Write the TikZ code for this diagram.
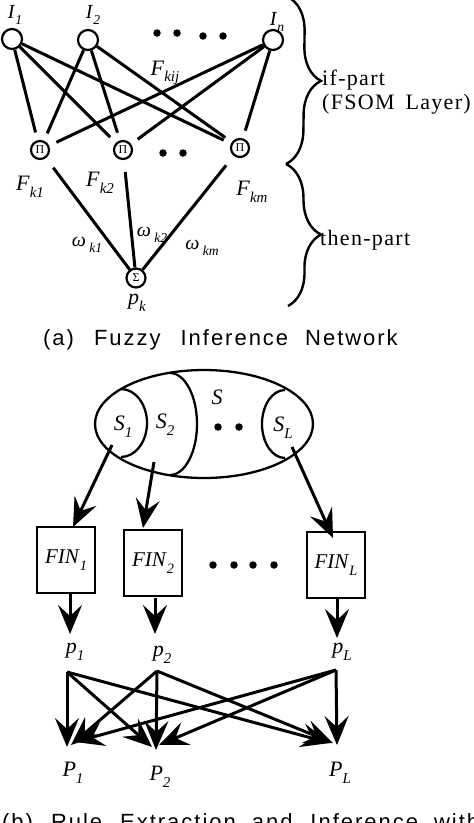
\documentclass[tikz,border=0pt]{standalone}
\usepackage{fontspec}
\setmainfont{Liberation Serif}
\newfontfamily\capfont[LetterSpace=9]{Liberation Sans}
\newfontfamily\sparse[LetterSpace=6]{Liberation Serif}
\usetikzlibrary{arrows.meta,decorations.pathreplacing}
\newcommand\lsub[2]{\textit{#1}\raisebox{-0.3em}{\scalebox{0.68}{\textit{#2}}}}
\begin{document}
\begin{tikzpicture}[x=1pt,y=-1pt,
  every node/.style={inner sep=0pt},
  lbl/.style={font=\fontsize{22}{26}\selectfont},
  slbl/.style={font=\fontsize{20}{24}\selectfont},
  inode/.style={circle,draw,line width=2.2pt,minimum size=20pt},
  pinode/.style={circle,draw,line width=2.2pt,minimum size=18pt,font=\fontsize{12}{12}\selectfont},
  wire/.style={line width=3pt},
  blob/.style={circle,fill,minimum size=7.5pt},
  finbox/.style={draw,line width=2.3pt,minimum width=58pt,minimum height=66pt,font=\fontsize{21}{24}\selectfont},
  bigarrow/.style={line width=3pt,-{Stealth[length=29pt,width=24pt,inset=11pt]}},
  captext/.style={font=\capfont\fontsize{22}{26}\selectfont,anchor=base west},
  sidetext/.style={font=\sparse\fontsize{22}{26}\selectfont,anchor=base west},
  brc/.style={decorate,decoration={brace,amplitude=34pt},line width=2.4pt},
]
\useasboundingbox (0,0) rectangle (474,823);
\fill[white] (0,0) rectangle (474,823);

% ---------- (a) network ----------
\node[inode] (I1) at (12,39) {};
\node[inode] (I2) at (88,40) {};
\node[inode] (In) at (273,40) {};
\node[slbl] (lI1) at (15,15) {\lsub{I}{1}};
\node[slbl] (lI2) at (93,15) {\lsub{I}{2}};
\node[slbl] (lIn) at (277,22) {\lsub{I}{n}};
\node[blob] (d1) at (157,33) {};
\node[blob] (d2) at (177,33) {};
\node[blob] (d3) at (203,36) {};
\node[blob] (d4) at (223,36) {};

\node[pinode] (Pa) at (40,150) {Π};
\node[pinode] (Pb) at (123,150) {Π};
\node[pinode] (Pc) at (240,148) {Π};
\node[blob] (d5) at (163,153) {};
\node[blob] (d6) at (183,153) {};

\foreach \s in {I1,I2,In}{
  \foreach \t in {Pa,Pb,Pc}{
    \draw[wire,shorten >=8pt] (\s) -- (\t);
  }
}
\node[lbl] (Fkij) at (165,73) {\lsub{F}{kij}};

\node[pinode,minimum size=19pt,font=\fontsize{12}{12}\selectfont] (Sg) at (136,278) {Σ};
\draw[wire,shorten <=12pt] (Pa) -- (Sg);
\draw[wire,shorten <=12pt] (Pb) -- (Sg);
\draw[wire,shorten <=12pt] (Pc) -- (Sg);
\node[lbl] (Fk1) at (30,187) {\lsub{F}{k1}};
\node[lbl] (Fk2) at (100,183) {\lsub{F}{k2}};
\node[lbl] (Fkm) at (252,192) {\lsub{F}{km}};
\node[slbl] (wk1) at (87,245) {\textit{ω}\,\raisebox{-0.3em}{\scalebox{0.68}{\textit{k1}}}};
\node[slbl] (wk2) at (152,235) {\textit{ω}\,\raisebox{-0.3em}{\scalebox{0.68}{\textit{k2}}}};
\node[slbl] (wkm) at (202,248) {\textit{ω}\,\raisebox{-0.3em}{\scalebox{0.68}{\textit{km}}}};
\node[lbl] (pk) at (137,303) {\lsub{p}{k}};

\draw[brc] (288,-3) -- (286,164);
\draw[brc] (286,164) -- (288,306);
\node[sidetext] (ifp) at (322,85) {if-part};
\node[sidetext] (fsom) at (322,109) {(FSOM\hspace{4pt} Layer)};
\node[sidetext] (thenp) at (320,245) {then-part};

\node[captext] (capa) at (43,345) {(a)\hspace{20pt}Fuzzy\hspace{20pt}Inference\hspace{17pt}Network};

% ---------- (b) ----------
\draw[line width=2.3pt] (204,424) ellipse [x radius=109, y radius=54];
\draw[line width=2.3pt] (121,389) arc[start angle=-90, end angle=90, x radius=26, y radius=34];
\draw[line width=2.3pt] (170,373) arc[start angle=-90, end angle=90, x radius=27, y radius=51];
\draw[line width=2.3pt] (285,390) arc[start angle=-90, end angle=-270, x radius=23, y radius=34];
\node[lbl] (S1) at (123,427) {\lsub{S}{1}};
\node[lbl] (S2) at (165,425) {\lsub{S}{2}};
\node[lbl] (S) at (217,397) {\textit{S}};
\node[lbl] (SL) at (283,428) {\lsub{S}{L}};
\node[blob] (d7) at (218,427) {};
\node[blob] (d8) at (239,427) {};

\node[finbox] (F1) at (66,560) {\lsub{FIN}{1}};
\node[finbox] (F2) at (153,563) {\lsub{FIN}{2}};
\node[finbox] (FL) at (336,565) {\lsub{FIN}{L}};
\node[blob] (d9) at (213,565) {};
\node[blob] (d10) at (234,565) {};
\node[blob] (d11) at (253,565) {};
\node[blob] (d12) at (274,565) {};

\coordinate (s1o) at (112,445);
\coordinate (s2o) at (154,462);
\coordinate (sLo) at (292,447);
\coordinate (f1i) at (73,527);
\coordinate (f2i) at (143,528);
\coordinate (fLi) at (333,538);
\draw[bigarrow] (s1o) -- (f1i);
\draw[bigarrow] (s2o) -- (f2i);
\draw[bigarrow] (sLo) -- (fLi);

\coordinate (f1o) at (70,593);
\coordinate (f2o) at (155,598);
\coordinate (fLo) at (337,598);
\coordinate (p1i) at (70,634);
\coordinate (p2i) at (155,634);
\coordinate (pLi) at (337,638);
\draw[bigarrow] (f1o) -- (p1i);
\draw[bigarrow] (f2o) -- (p2i);
\draw[bigarrow] (fLo) -- (pLi);

\node[lbl] (p1) at (75,652) {\lsub{p}{1}};
\node[lbl] (p2) at (162,655) {\lsub{p}{2}};
\node[lbl] (pL) at (342,652) {\lsub{p}{L}};

\coordinate (p1o) at (67,672);
\coordinate (p2o) at (157,671);
\coordinate (pLo) at (336,670);
\coordinate (P1a) at (67,747);
\coordinate (P1b) at (71,745);
\coordinate (P1c) at (75,742);
\coordinate (P2a) at (152,747);
\coordinate (P2b) at (156,750);
\coordinate (P2c) at (159,745);
\coordinate (PLa) at (330,743);
\coordinate (PLb) at (333,743);
\coordinate (PLc) at (337,745);
\draw[bigarrow] (p1o) -- (P1a);
\draw[bigarrow] (p1o) -- (P2a);
\draw[bigarrow] (p1o) -- (PLa);
\draw[bigarrow] (p2o) -- (P1b);
\draw[bigarrow] (p2o) -- (P2b);
\draw[bigarrow] (p2o) -- (PLb);
\draw[bigarrow] (pLo) -- (P1c);
\draw[bigarrow] (pLo) -- (P2c);
\draw[bigarrow] (pLo) -- (PLc);

\node[lbl] (P1) at (73,773) {\lsub{P}{1}};
\node[lbl] (P2) at (160,777) {\lsub{P}{2}};
\node[lbl] (PL) at (340,773) {\lsub{P}{L}};

\node[captext] (capb) at (2,829) {(b)\hspace{18pt}Rule\hspace{18pt}Extraction\hspace{16pt}and\hspace{18pt}Inference\hspace{16pt}with};
\end{tikzpicture}
\end{document}
